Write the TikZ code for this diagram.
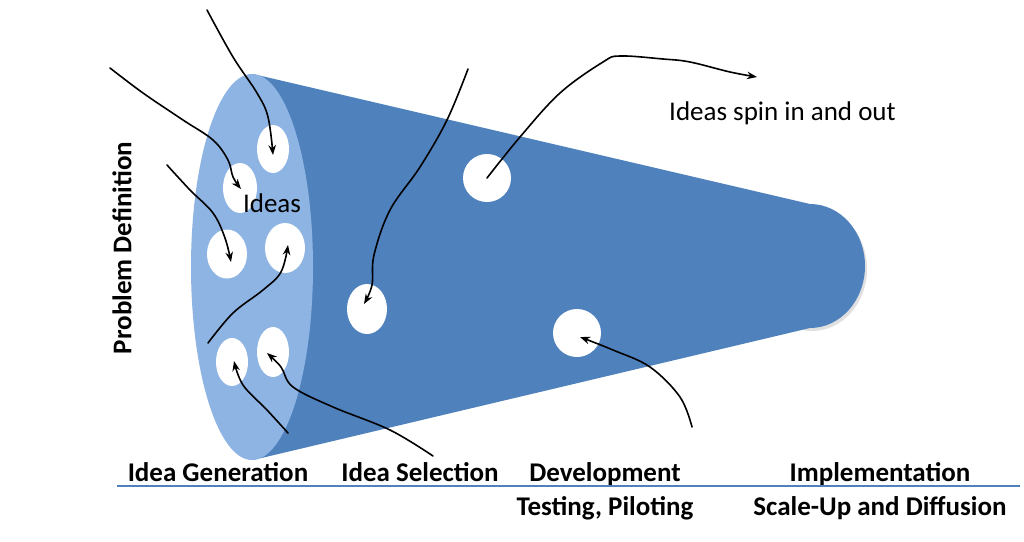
\documentclass[tikz,border=0pt]{standalone}
\usepackage{fontspec}
\setmainfont{Carlito}
\usetikzlibrary{arrows.meta,shapes.geometric}
\definecolor{conebody}{RGB}{79,129,189}
\definecolor{conelight}{RGB}{142,180,227}
\definecolor{baseblue}{RGB}{79,129,189}
\begin{document}
\begin{tikzpicture}[x=1pt,y=-1pt,
  idea/.style={ellipse, fill=white, draw=none, inner sep=0pt},
  conn/.style={line width=1.6pt, -{Stealth[length=10pt,width=7.5pt]}, line join=round, line cap=round},
  lbl/.style={font=\fontsize{27}{30}\selectfont\bfseries, anchor=base, inner sep=0pt},
  txt/.style={font=\fontsize{27}{30}\selectfont, anchor=base, inner sep=0pt},
]
\useasboundingbox (0,0) rectangle (1024,541);
% cone
\fill[black!30, opacity=0.4] (812,269) ellipse[x radius=55, y radius=62];
\fill[conebody] (253,74) -- (810,204) -- (810,328) -- (253,460) -- cycle;
\fill[conebody] (810,266) ellipse[x radius=55, y radius=62];
\fill[conelight] (252,267) ellipse[x radius=61, y radius=193];
% ideas
\node[idea, minimum width=32, minimum height=48] (i1) at (273,149) {};
\node[idea, minimum width=34, minimum height=50] (i2) at (240,188) {};
\node[idea, minimum width=40, minimum height=49] (i3) at (227,254) {};
\node[idea, minimum width=40, minimum height=50] (i4) at (285,248) {};
\node[idea, minimum width=32, minimum height=48] (i5) at (232,362) {};
\node[idea, minimum width=32, minimum height=50] (i6) at (273,352) {};
\node[idea, minimum width=48, minimum height=48] (i7) at (487,178) {};
\node[idea, minimum width=40, minimum height=50] (i8) at (367,309) {};
\node[idea, minimum width=48, minimum height=48] (i9) at (577,333) {};
% texts
\node[txt] (ideas) at (272,212) {Ideas};
\node[txt, anchor=base west] (spin) at (669,120) {Ideas spin in and out};
\node[lbl, anchor=center, rotate=90] (pd) at (122,248) {Problem Definition};
\node[lbl] (l1) at (218,481) {Idea Generation};
\node[lbl] (l2) at (420,481) {Idea Selection};
\node[lbl] (l3) at (605,481) {Development};
\node[lbl] (l4) at (605,515) {Testing, Piloting};
\node[lbl] (l5) at (880,481) {Implementation};
\node[lbl] (l6) at (880,515) {Scale-Up and Diffusion};
% base line
\coordinate (bl) at (117,486);
\coordinate (br) at (1020,486);
\draw[baseblue, line width=1.2pt] (bl) -- (br);
% arrow ends
\coordinate (s1) at (207,10);   \coordinate (e1) at (273,155);
\coordinate (s2) at (110,68);   \coordinate (e2) at (241,189);
\coordinate (s3) at (167,165);  \coordinate (e3) at (231,262);
\coordinate (s4) at (208,343);  \coordinate (e4) at (288,245);
\coordinate (s5) at (288,433);  \coordinate (e5) at (234,361);
\coordinate (s6) at (433,456);  \coordinate (e6) at (267,353);
\coordinate (s7) at (468,69);   \coordinate (e7) at (364,304);
\coordinate (s8) at (487,178);  \coordinate (e8) at (757,77);
\coordinate (s9) at (692,427);  \coordinate (e9) at (580,337);
% arrows
\draw[conn] plot[smooth, tension=0.6] coordinates {(s1) (233,57) (257,93) (268,117) (e1)};
\draw[conn] plot[smooth, tension=0.6] coordinates {(s2) (143,93) (183,120) (213,140) (228,160) (233,177) (e2)};
\draw[conn] plot[smooth, tension=0.6] coordinates {(s3) (190,190) (213,213) (225,238) (e3)};
\draw[conn] plot[smooth, tension=0.6] coordinates {(s4) (233,313) (263,290) (281,272) (e4)};
\draw[conn] plot[smooth, tension=0.6] coordinates {(s5) (267,410) (243,385) (e5)};
\draw[conn] plot[smooth, tension=0.6] coordinates {(s6) (390,430) (333,407) (293,387) (281,367) (e6)};
\draw[conn] plot[smooth, tension=0.6] coordinates {(s7) (447,120) (420,167) (390,210) (374,255) (372,285) (e7)};
\draw[conn] plot[smooth, tension=0.6] coordinates {(s8) (520,137) (560,93) (603,62) (620,56) (663,59) (690,62) (730,72) (e8)};
\draw[conn] plot[smooth, tension=0.6] coordinates {(s9) (680,397) (650,367) (613,350) (e9)};
\end{tikzpicture}
\end{document}
